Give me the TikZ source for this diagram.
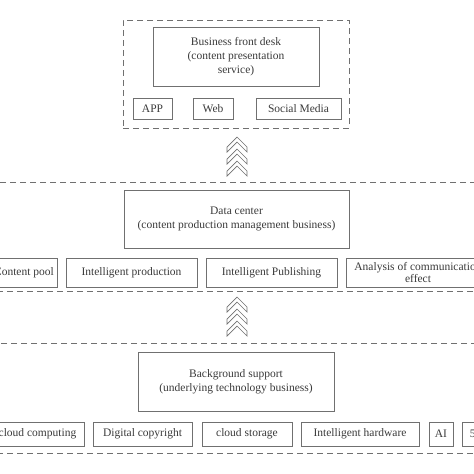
\documentclass[tikz,border=0pt]{standalone}
\usepackage{fontspec}
\setmainfont{Liberation Serif}
\definecolor{lineC}{HTML}{707070}
\definecolor{txtC}{HTML}{3A3A3A}
\tikzset{
  box/.style={draw=lineC, line width=0.8pt, rectangle, text=txtC, align=center,
    inner sep=0pt, font=\fontsize{11.5}{14}\selectfont},
  dashbox/.style={draw=lineC, line width=0.9pt, rectangle, dash pattern=on 6pt off 4pt, inner sep=0pt},
  chev/.style={draw=lineC, line width=0.7pt, line join=miter},
}
\begin{document}
\begin{tikzpicture}[x=1pt,y=-1pt]
\useasboundingbox (0,0) rectangle (474,474);
\clip (0,0) rectangle (474,474);
% layer 1
\node[dashbox, minimum width=226, minimum height=108] (layerA) at (236,74) {};
\node[box, minimum width=166, minimum height=59] (bfd) at (236,56.5) {Business front desk\\(content presentation\\service)};
\node[box, minimum width=39, minimum height=21] (app) at (152.5,108.5) {APP};
\node[box, minimum width=40, minimum height=21] (web) at (213,108.5) {Web};
\node[box, minimum width=85, minimum height=21] (social) at (298.5,108.5) {Social Media};
% chevrons 1
\coordinate (chA) at (237,137);
\foreach \k in {0,12,24}
  \draw[chev] ([yshift=-\k pt]chA) -- ++(-10,10) -- ++(0,5) -- ++(10,-10) -- ++(10,10) -- ++(0,-5) -- cycle;
% layer 2
\node[dashbox, minimum width=500, minimum height=109] (layerB) at (237,236.5) {};
\node[box, minimum width=225, minimum height=58] (dc) at (236.5,219) {Data center\\(content production management business)};
\node[box, minimum width=66, minimum height=29] (pool) at (24,272.5) {Content pool};
\node[box, minimum width=131, minimum height=29] (iprod) at (131.5,272.5) {Intelligent production};
\node[box, minimum width=131, minimum height=29] (ipub) at (271.5,272.5) {Intelligent Publishing};
\node[box, minimum width=144, minimum height=29, font=\fontsize{11.5}{10.5}\selectfont] (anal) at (418,272.5) {Analysis of communication\\effect};
% chevrons 2
\coordinate (chB) at (237,297);
\foreach \k in {0,12,24}
  \draw[chev] ([yshift=-\k pt]chB) -- ++(-10,10) -- ++(0,5) -- ++(10,-10) -- ++(10,10) -- ++(0,-5) -- cycle;
% layer 3
\node[dashbox, minimum width=500, minimum height=110] (layerC) at (237,398) {};
\node[box, minimum width=196, minimum height=59] (bs) at (236,381.5) {Background support\\(underlying technology business)};
\node[box, minimum width=93, minimum height=24] (cc) at (37.5,434) {cloud computing};
\node[box, minimum width=99, minimum height=24] (dcopy) at (142.5,434) {Digital copyright};
\node[box, minimum width=90, minimum height=24] (cs) at (247,434) {cloud storage};
\node[box, minimum width=118, minimum height=24] (ih) at (360,434) {Intelligent hardware};
\node[box, minimum width=24, minimum height=24] (ai) at (441,434) {AI};
\node[box, minimum width=30, minimum height=24] (fiveg) at (477,434) {5G};
\end{tikzpicture}
\end{document}
